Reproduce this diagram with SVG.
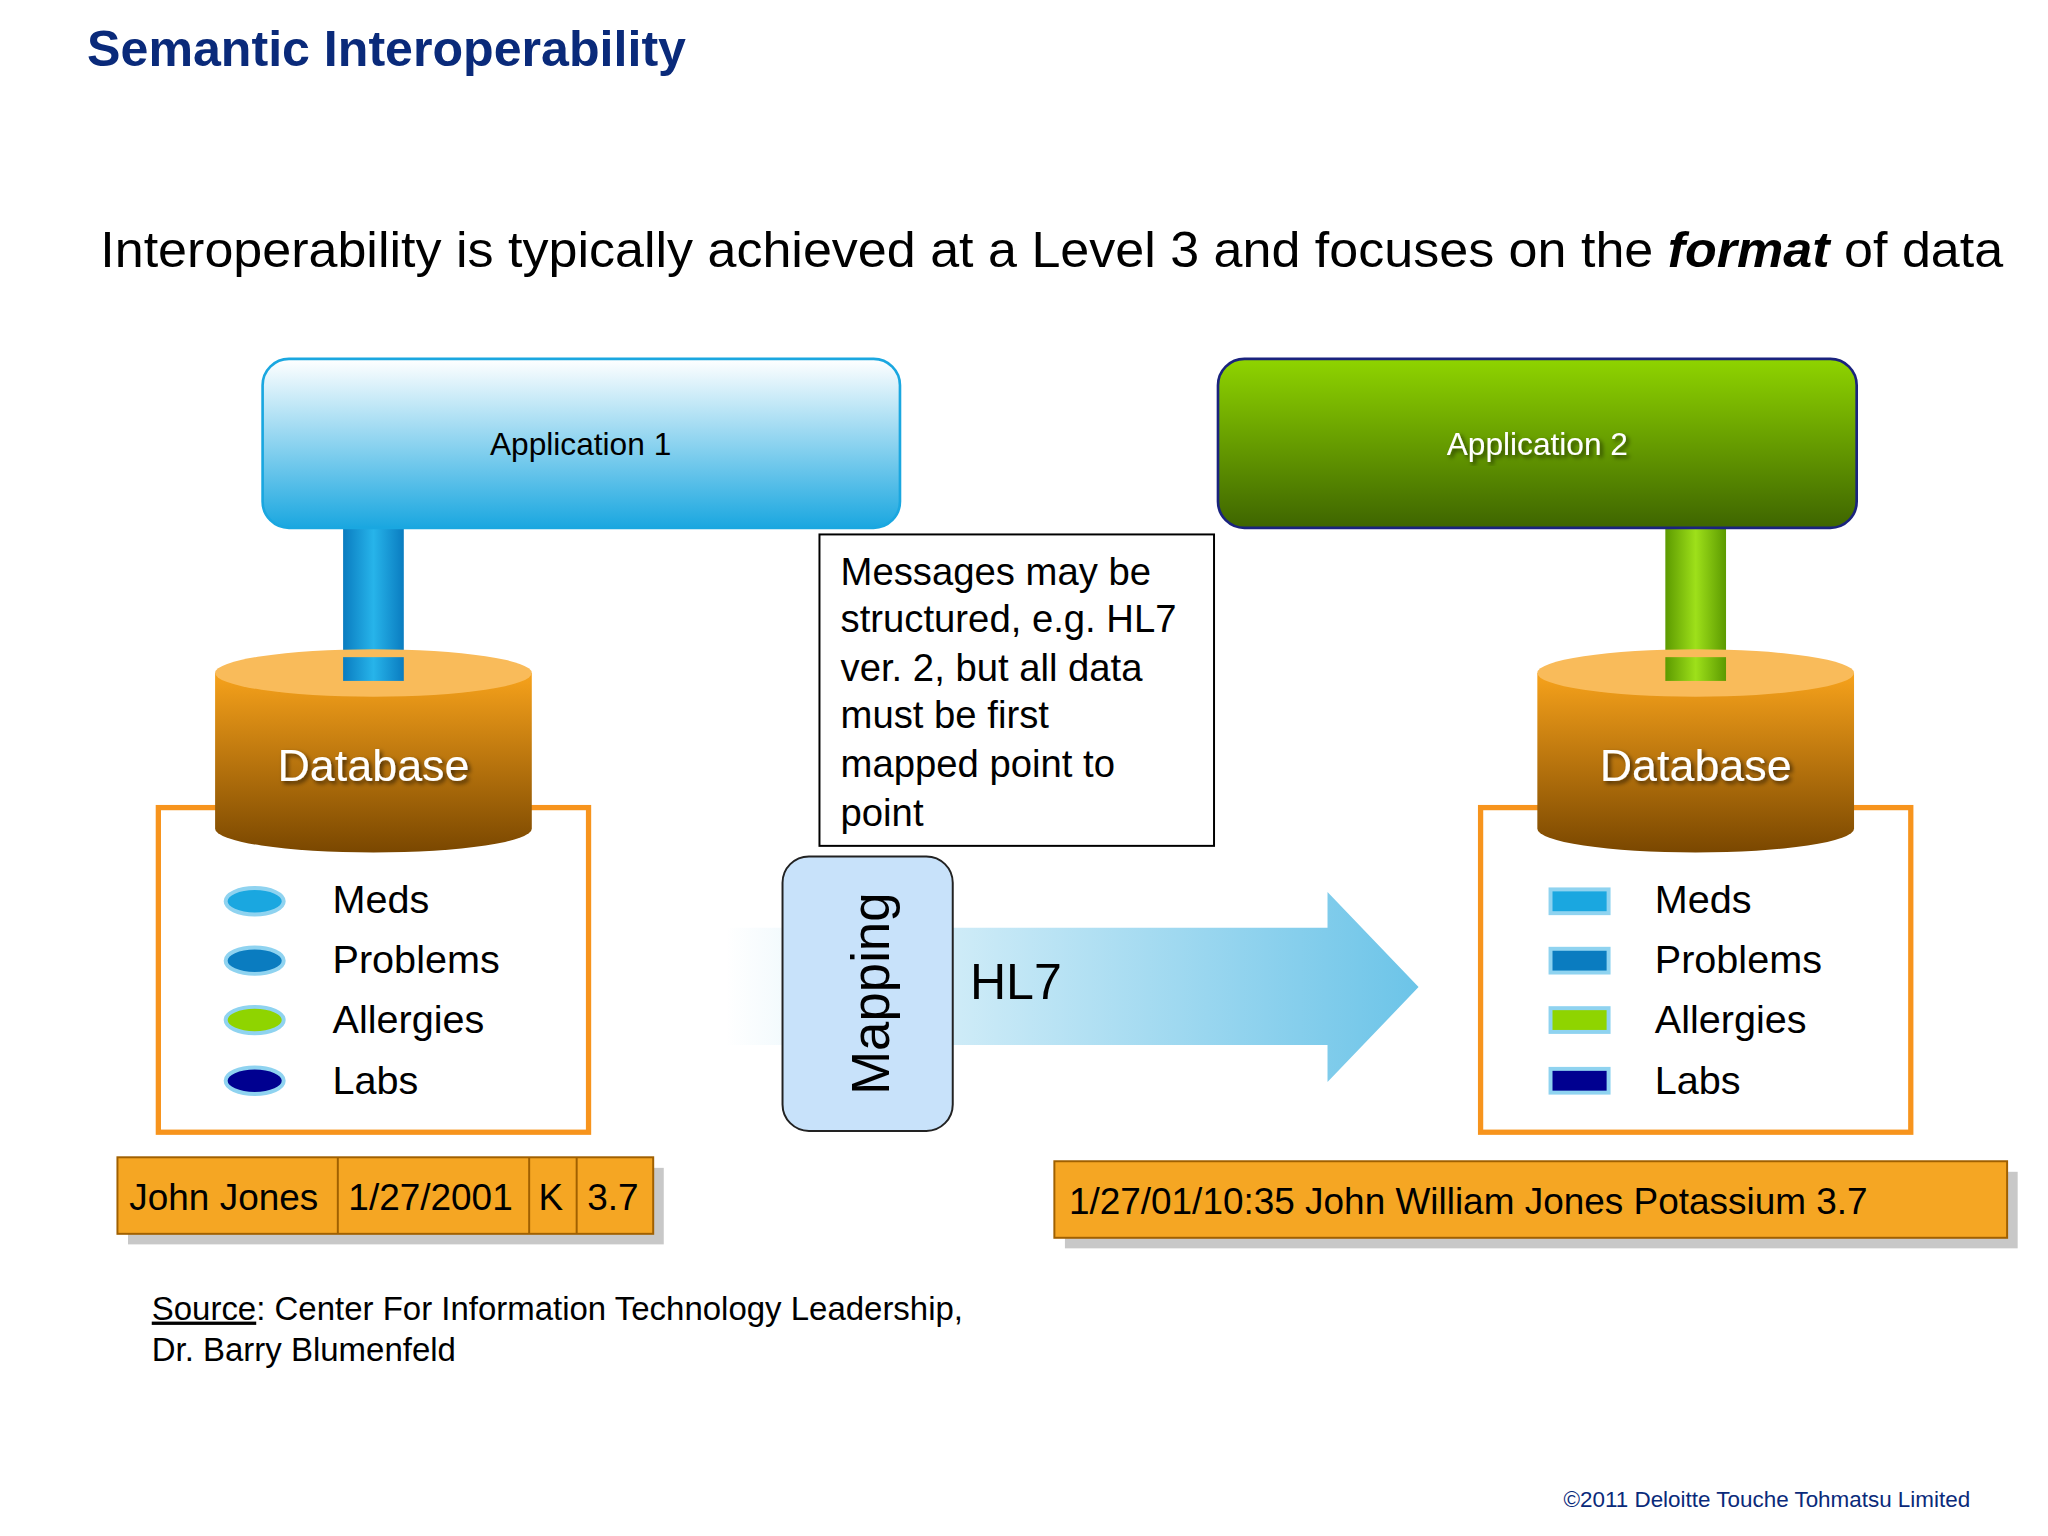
<svg xmlns="http://www.w3.org/2000/svg" width="2048" height="1536" viewBox="0 0 2048 1536">
<defs>
<linearGradient id="ga1" x1="0" y1="0" x2="0" y2="1"><stop offset="0" stop-color="#ffffff"/><stop offset="1" stop-color="#1aa7e0"/></linearGradient>
<linearGradient id="ga2" x1="0" y1="0" x2="0" y2="1"><stop offset="0" stop-color="#8fd400"/><stop offset="1" stop-color="#3e6500"/></linearGradient>
<linearGradient id="gp1" x1="0" y1="0" x2="1" y2="0"><stop offset="0" stop-color="#0a7cc0"/><stop offset="0.5" stop-color="#27b4ea"/><stop offset="1" stop-color="#0a7cc0"/></linearGradient>
<linearGradient id="gp2" x1="0" y1="0" x2="1" y2="0"><stop offset="0" stop-color="#5c9a00"/><stop offset="0.5" stop-color="#9ee01a"/><stop offset="1" stop-color="#5c9a00"/></linearGradient>
<linearGradient id="gdb" x1="0" y1="0" x2="0" y2="1"><stop offset="0" stop-color="#f7a21b"/><stop offset="1" stop-color="#7a4700"/></linearGradient>
<linearGradient id="garr" x1="0" y1="0" x2="1" y2="0"><stop offset="0" stop-color="#6cc4e8" stop-opacity="0"/><stop offset="1" stop-color="#6cc4e8"/></linearGradient>
<filter id="sh"><feDropShadow dx="2" dy="2" stdDeviation="1.5" flood-color="#000" flood-opacity="0.6"/></filter>
<style>
text{font-family:"Liberation Sans",Arial,sans-serif}
.leg{font-size:30px;fill:#000}
.bar{font-size:28px;fill:#000}
.bbox{fill:none;stroke:#f7941d;stroke-width:4}
.db{font-size:34px;fill:#fff;filter:url(#sh)}
</style>
</defs>
<rect width="2048" height="1536" fill="#fff"/>
<g transform="scale(1.3196)">
<text x="66" y="50" font-size="38" font-weight="bold" fill="#0a2a7a">Semantic Interoperability</text>
<text x="76" y="202" font-size="38" fill="#000" textLength="1442" lengthAdjust="spacingAndGlyphs">Interoperability is typically achieved  at a Level 3 and focuses on the <tspan font-weight="bold" font-style="italic">format</tspan> of data</text>

<g id="connectors">
<polygon points="550,703 1006,703 1006,676 1075,748 1006,820 1006,792 550,792" fill="url(#garr)"/>
<rect x="260" y="398" width="46" height="118" fill="url(#gp1)"/>
<rect x="1262" y="398" width="46" height="118" fill="url(#gp2)"/>
</g>

<g id="app1">
<rect x="199" y="272" width="483" height="128" rx="20" fill="url(#ga1)" stroke="#1aa7e0" stroke-width="2"/>
<text x="440" y="345" font-size="24" text-anchor="middle" fill="#000">Application  1</text>
</g>
<g id="app2">
<rect x="923" y="272" width="484" height="128" rx="20" fill="url(#ga2)" stroke="#1a237e" stroke-width="2"/>
<text x="1165" y="345" font-size="24" text-anchor="middle" fill="#fff" filter="url(#sh)">Application  2</text>
</g>

<g id="box1">
<rect class="bbox" x="120" y="612" width="326" height="246"/>
<ellipse cx="193" cy="683" rx="22" ry="10" fill="#1aa7e0" stroke="#8fd3f0" stroke-width="3"/>
<ellipse cx="193" cy="728" rx="22" ry="10" fill="#0a7cc0" stroke="#8fd3f0" stroke-width="3"/>
<ellipse cx="193" cy="773" rx="22" ry="10" fill="#8fd400" stroke="#8fd3f0" stroke-width="3"/>
<ellipse cx="193" cy="819" rx="22" ry="10" fill="#000090" stroke="#8fd3f0" stroke-width="3"/>
<text class="leg" x="252" y="692">Meds</text>
<text class="leg" x="252" y="737">Problems</text>
<text class="leg" x="252" y="783">Allergies</text>
<text class="leg" x="252" y="829">Labs</text>
</g>
<g id="db1">
<path d="M163,510 V628 A120,18 0 0 0 403,628 V510 Z" fill="url(#gdb)"/>
<ellipse cx="283" cy="510" rx="120" ry="18" fill="#f9bb5a"/>
<rect x="260" y="498" width="46" height="18" fill="url(#gp1)"/>
<text class="db" x="283" y="592" text-anchor="middle">Database</text>
</g>

<g id="box2">
<rect class="bbox" x="1122" y="612" width="326" height="246"/>
<rect x="1175" y="674" width="44" height="18" fill="#1aa7e0" stroke="#8fd3f0" stroke-width="3"/>
<rect x="1175" y="719" width="44" height="18" fill="#0a7cc0" stroke="#8fd3f0" stroke-width="3"/>
<rect x="1175" y="764" width="44" height="18" fill="#8fd400" stroke="#8fd3f0" stroke-width="3"/>
<rect x="1175" y="810" width="44" height="18" fill="#000090" stroke="#8fd3f0" stroke-width="3"/>
<text class="leg" x="1254" y="692">Meds</text>
<text class="leg" x="1254" y="737">Problems</text>
<text class="leg" x="1254" y="783">Allergies</text>
<text class="leg" x="1254" y="829">Labs</text>
</g>
<g id="db2">
<path d="M1165,510 V628 A120,18 0 0 0 1405,628 V510 Z" fill="url(#gdb)"/>
<ellipse cx="1285" cy="510" rx="120" ry="18" fill="#f9bb5a"/>
<rect x="1262" y="498" width="46" height="18" fill="url(#gp2)"/>
<text class="db" x="1285" y="592" text-anchor="middle">Database</text>
</g>

<g id="note">
<rect x="621" y="405" width="299" height="236" fill="#fff" stroke="#000" stroke-width="1.5"/>
<text x="637" y="443" font-size="29">Messages may be</text>
<text x="637" y="479" font-size="29">structured, e.g. HL7</text>
<text x="637" y="516" font-size="29">ver. 2, but all data</text>
<text x="637" y="552" font-size="29">must be first</text>
<text x="637" y="589" font-size="29">mapped point to</text>
<text x="637" y="626" font-size="29">point</text>
</g>

<g id="mapping">
<rect x="593" y="649" width="129" height="208" rx="20" fill="#c8e2fa" stroke="#222" stroke-width="1.5"/>
<text transform="translate(674,753) rotate(-90)" font-size="40" text-anchor="middle" fill="#000">Mapping</text>
</g>
<text id="hl7" x="735" y="757" font-size="38" fill="#000">HL7</text>

<g id="bar1">
<rect x="97" y="885" width="406" height="58" fill="#c8c8c8"/>
<rect x="89" y="877" width="406" height="58" fill="#f5a623" stroke="#a06000" stroke-width="1.5"/>
<line x1="256" y1="877" x2="256" y2="935" stroke="#a06000" stroke-width="1.5"/>
<line x1="401" y1="877" x2="401" y2="935" stroke="#a06000" stroke-width="1.5"/>
<line x1="437" y1="877" x2="437" y2="935" stroke="#a06000" stroke-width="1.5"/>
<text class="bar" x="98" y="917">John Jones</text>
<text class="bar" x="264" y="917">1/27/2001</text>
<text class="bar" x="408" y="917">K</text>
<text class="bar" x="445" y="917">3.7</text>
</g>
<g id="bar2">
<rect x="807" y="888" width="722" height="58" fill="#c8c8c8"/>
<rect x="799" y="880" width="722" height="58" fill="#f5a623" stroke="#a06000" stroke-width="1.5"/>
<text class="bar" x="810" y="920">1/27/01/10:35 John William Jones  Potassium  3.7</text>
</g>

<text x="115" y="1000" font-size="25" fill="#000"><tspan text-decoration="underline">Source</tspan>:  Center For Information Technology Leadership,</text>
<text x="115" y="1031" font-size="25" fill="#000">Dr. Barry Blumenfeld</text>
<text x="1493" y="1142" font-size="17" text-anchor="end" fill="#0a2a7a">©2011 Deloitte Touche Tohmatsu Limited</text>
</g>
</svg>
